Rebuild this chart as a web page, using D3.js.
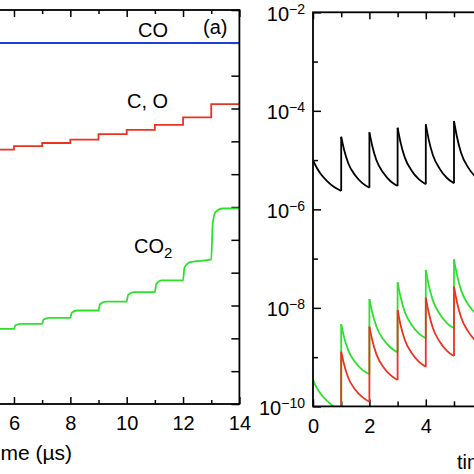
<!DOCTYPE html>
<html>
<head>
<meta charset="utf-8">
<script src="https://cdn.jsdelivr.net/npm/d3@7"></script>
<style>
body { margin: 0; background: #fff; }
text { font-family: "Liberation Sans", Arial, Helvetica, sans-serif; fill: #000; }
</style>
</head>
<body>
<div id="chart"></div>
<script>
// ---- panel (a): species after each pulse (left, log scale) ----
var coTimes = [0, 14]
var coValues = [0.0988, 0.0988]

// C, O level on each interval [t, t+1]
var stepTimes = [0, 1, 2, 3, 4, 5, 6, 7, 8, 9, 10, 11, 12, 13, 14]
var cValues = [2.0e-5, 2.48e-5, 3.05e-5, 3.77e-5, 4.66e-5, 5.6e-5, 7.1e-5, 8.9e-5,
               1.13e-4, 1.65e-4, 2.23e-4, 3.17e-4, 5.4e-4, 1.35e-3, 1.35e-3]

// CO2, rounded steps
var co2Times = [0, 1, 1.05, 1.25, 2, 2.05, 2.25, 3, 3.05, 3.25, 4, 4.05, 4.25,
                5, 5.05, 5.25, 6, 6.05, 6.25, 7, 7.05, 7.25, 8, 8.05, 8.25,
                9, 9.05, 9.25, 10, 10.05, 10.25, 11, 11.05, 11.25, 12, 12.05, 12.25,
                13, 13.05, 13.15, 13.4, 14]
var co2Values = [3.7e-11, 3.7e-11, 4.7e-11, 5.2e-11, 5.2e-11, 6.6e-11, 7.2e-11, 7.2e-11, 9.1e-11, 1.0e-10,
                 1.0e-10, 1.26e-10, 1.4e-10, 1.4e-10, 1.75e-10, 1.95e-10, 1.95e-10, 2.49e-10, 2.77e-10,
                 2.77e-10, 3.72e-10, 4.22e-10, 4.22e-10, 6.04e-10, 7.05e-10, 7.05e-10, 1.09e-9, 1.32e-9,
                 1.32e-9, 2.09e-9, 2.55e-9, 2.55e-9, 4.53e-9, 5.8e-9, 5.8e-9, 1.42e-8, 2.09e-8,
                 2.53e-8, 2.83e-7, 7.03e-7, 8.99e-7, 9.1e-7]

// ---- panel (b): decay between pulses (right) ----
var pulseStarts = [0, 1, 2, 3, 4, 5]
var pulseOffsets = [0, 0.1, 0.25, 0.5, 0.75, 1]
var blackPulses = [
  [1.00e-5, 7.59e-6, 5.47e-6, 3.76e-6, 2.84e-6, 2.36e-6],
  [2.98e-5, 1.64e-5, 8.65e-6, 4.86e-6, 3.41e-6, 2.75e-6],
  [3.66e-5, 1.96e-5, 9.95e-6, 5.44e-6, 3.72e-6, 2.98e-6],
  [4.54e-5, 2.34e-5, 1.15e-5, 6.08e-6, 4.09e-6, 3.22e-6],
  [5.32e-5, 2.67e-5, 1.27e-5, 6.56e-6, 4.33e-6, 3.38e-6],
  [6.21e-5, 3.04e-5, 1.41e-5, 7.10e-6, 4.64e-6, 3.59e-6]
]
var greenPulses = [
  [3.44e-10, 2.59e-10, 1.87e-10, 1.29e-10, 9.7e-11, 7.7e-11],
  [4.64e-9, 2.58e-9, 1.37e-9, 7.85e-10, 5.53e-10, 4.48e-10],
  [1.51e-8, 8.13e-9, 4.15e-9, 2.28e-9, 1.57e-9, 1.25e-9],
  [3.30e-8, 1.72e-8, 8.47e-9, 4.51e-9, 3.05e-9, 2.41e-9],
  [5.87e-8, 2.96e-8, 1.42e-8, 7.40e-9, 4.91e-9, 3.85e-9],
  [9.68e-8, 4.84e-8, 2.29e-8, 1.18e-8, 7.80e-9, 6.08e-9]
]
var redPulses = [
  [5e-11, 4.5e-11, 4e-11, 3.5e-11, 3.2e-11, 3e-11],
  [1.29e-9, 7.18e-10, 3.82e-10, 2.18e-10, 1.54e-10, 1.24e-10],
  [4.15e-9, 2.23e-9, 1.14e-9, 6.24e-10, 4.30e-10, 3.44e-10],
  [9.04e-9, 4.66e-9, 2.28e-9, 1.21e-9, 8.11e-10, 6.38e-10],
  [1.61e-8, 8.13e-9, 3.90e-9, 2.03e-9, 1.34e-9, 1.05e-9],
  [2.69e-8, 1.35e-8, 6.43e-9, 3.33e-9, 2.20e-9, 1.72e-9]
]

var xTickMajor = [0, 2, 4, 6, 8, 10, 12, 14]
var xTickMinor = [1, 3, 5, 7, 9, 11, 13]
var yTicksA = [1e-12, 1e-11, 1e-10, 1e-9, 1e-8, 1e-7, 1e-6, 1e-5, 1e-4, 1e-3, 1e-2, 1e-1, 1]
var yTickMajorB = [1e-10, 1e-8, 1e-6, 1e-4, 1e-2]
var yTickMinorB = [1e-9, 1e-7, 1e-5, 1e-3]

var svgw = 474
var svgh = 474
var svg = d3.select('#chart').append('svg')
            .attr('width', svgw)
            .attr('height', svgh)

var blue = '#1f3fd8', red = '#ec3320', green = '#2ee02e'

// ===== panel (a) =====
var xA = d3.scaleLinear().domain([0, 14]).range([-155.1, 239.4])
var yA = d3.scaleLog().domain([1e-12, 1]).range([404, 10])

svg.append('clipPath').attr('id', 'clipA').append('rect')
   .attr('x', xA(0)).attr('y', yA(1))
   .attr('width', xA(14) - xA(0)).attr('height', yA(1e-12) - yA(1))

var gA = svg.append('g')

function tickAxis(g, axis, tx, ty){
  g.append('g').attr('transform', 'translate(' + tx + ',' + ty + ')')
   .call(axis)
   .call(function(s){ s.select('.domain').remove() })
   .selectAll('line').attr('stroke', '#000').attr('stroke-width', 1.5)
}

// labels only for ticks that fall inside the window (the rest of panel (a) is cropped away)
var visibleMajorA = xTickMajor.filter(function(d){ return xA(d) > 0 })
tickAxis(gA, d3.axisBottom(xA).tickValues(visibleMajorA).tickSizeInner(-7).tickSizeOuter(0).tickPadding(12), 0, yA(1e-12))
tickAxis(gA, d3.axisBottom(xA).tickValues(xTickMinor).tickSizeInner(-4).tickSizeOuter(0).tickFormat(''), 0, yA(1e-12))
tickAxis(gA, d3.axisTop(xA).tickValues(xTickMajor).tickSizeInner(-7).tickSizeOuter(0).tickFormat(''), 0, yA(1))
tickAxis(gA, d3.axisTop(xA).tickValues(xTickMinor).tickSizeInner(-4).tickSizeOuter(0).tickFormat(''), 0, yA(1))
tickAxis(gA, d3.axisRight(yA).tickValues(yTicksA).tickSizeInner(-8).tickSizeOuter(0).tickFormat(''), xA(14), 0)

gA.selectAll('.tick text').attr('font-size', 20).attr('font-family', '"Liberation Sans", Arial, sans-serif')

var lineA = d3.line().x(function(d){ return xA(d[0]) }).y(function(d){ return yA(d[1]) })

var plotA = gA.append('g').attr('clip-path', 'url(#clipA)')
plotA.append('path')
  .datum(d3.zip(coTimes, coValues))
  .attr('d', lineA)
  .attr('fill', 'none').attr('stroke', blue).attr('stroke-width', 1.8)
plotA.append('path')
  .datum(d3.zip(stepTimes, cValues))
  .attr('d', lineA.curve(d3.curveStepAfter))
  .attr('fill', 'none').attr('stroke', red).attr('stroke-width', 1.8)
plotA.append('path')
  .datum(d3.zip(co2Times, co2Values))
  .attr('d', lineA.curve(d3.curveMonotoneX))
  .attr('fill', 'none').attr('stroke', green).attr('stroke-width', 1.8)

gA.append('rect')
  .attr('x', xA(0)).attr('y', yA(1))
  .attr('width', xA(14) - xA(0)).attr('height', yA(1e-12) - yA(1))
  .attr('fill', 'none').attr('stroke', '#000').attr('stroke-width', 1.8)

gA.append('text').attr('x', 138).attr('y', 37).attr('font-size', 20).text('CO')
gA.append('text').attr('x', 203).attr('y', 34).attr('font-size', 20).text('(a)')
gA.append('text').attr('x', 127).attr('y', 108).attr('font-size', 20).text('C, O')
var co2Label = gA.append('text').attr('x', 134).attr('y', 253).attr('font-size', 20)
co2Label.append('tspan').text('CO')
co2Label.append('tspan').attr('font-size', 15).attr('dy', 5).text('2')

gA.append('text').attr('x', 72).attr('y', 460).attr('font-size', 21)
  .attr('text-anchor', 'end').text('time (µs)')

// ===== panel (b) =====
var xB = d3.scaleLinear().domain([0, 14]).range([313, 707.8])
var yB = d3.scaleLog().domain([1e-10, 1e-2]).range([406.4, 12.3])

svg.append('clipPath').attr('id', 'clipB').append('rect')
   .attr('x', xB(0)).attr('y', yB(1e-2))
   .attr('width', xB(14) - xB(0)).attr('height', yB(1e-10) - yB(1e-2))

var gB = svg.append('g')

var visibleMajorB = xTickMajor.filter(function(d){ return xB(d) < svgw })
tickAxis(gB, d3.axisBottom(xB).tickValues(visibleMajorB).tickSizeInner(-7).tickSizeOuter(0).tickPadding(12), 0, yB(1e-10))
tickAxis(gB, d3.axisBottom(xB).tickValues(xTickMinor).tickSizeInner(-5).tickSizeOuter(0).tickFormat(''), 0, yB(1e-10))
tickAxis(gB, d3.axisTop(xB).tickValues(xTickMajor).tickSizeInner(-7).tickSizeOuter(0).tickFormat(''), 0, yB(1e-2))
tickAxis(gB, d3.axisTop(xB).tickValues(xTickMinor).tickSizeInner(-5).tickSizeOuter(0).tickFormat(''), 0, yB(1e-2))
tickAxis(gB, d3.axisLeft(yB).tickValues(yTickMajorB).tickSizeInner(-8).tickSizeOuter(0).tickFormat(''), xB(0), 0)
tickAxis(gB, d3.axisLeft(yB).tickValues(yTickMinorB).tickSizeInner(-5).tickSizeOuter(0).tickFormat(''), xB(0), 0)

gB.selectAll('.tick text').attr('font-size', 20).attr('font-family', '"Liberation Sans", Arial, sans-serif')

// y labels as 10^n
yTickMajorB.forEach(function(v){
  var t = gB.append('text')
    .attr('x', xB(0) - 8)
    .attr('y', yB(v) + 8.4)
    .attr('font-size', 20)
    .attr('text-anchor', 'end')
  t.append('tspan').text('10')
  t.append('tspan').attr('font-size', 14).attr('dy', -7)
   .text('\u2212' + Math.round(-Math.log10(v)))
})

var lineB = d3.line()
  .x(function(d){ return xB(d[0]) })
  .y(function(d){ return yB(d[1]) })

var plotB = gB.append('g').attr('clip-path', 'url(#clipB)')

function drawPulses(series, color){
  series.forEach(function(vals, i){
    var t0 = pulseStarts[i]
    var pts = pulseOffsets.map(function(o, j){ return [t0 + o, vals[j]] })
    plotB.append('path')
      .datum(pts)
      .attr('d', lineB.curve(d3.curveMonotoneX))
      .attr('fill', 'none').attr('stroke', color).attr('stroke-width', 1.8)
    if (i > 0){
      var prev = series[i - 1]
      plotB.append('path')
        .datum([[t0, prev[prev.length - 1]], [t0, vals[0]]])
        .attr('d', lineB.curve(d3.curveLinear))
        .attr('fill', 'none').attr('stroke', color).attr('stroke-width', 1.8)
    }
  })
}
drawPulses(blackPulses, '#000')
drawPulses(greenPulses, green)
drawPulses(redPulses, red)

gB.append('rect')
  .attr('x', xB(0)).attr('y', yB(1e-2))
  .attr('width', xB(14) - xB(0)).attr('height', yB(1e-10) - yB(1e-2))
  .attr('fill', 'none').attr('stroke', '#000').attr('stroke-width', 1.8)

gB.append('text').attr('x', 457).attr('y', 469).attr('font-size', 20).text('time (µs)')
</script>
</body>
</html>
